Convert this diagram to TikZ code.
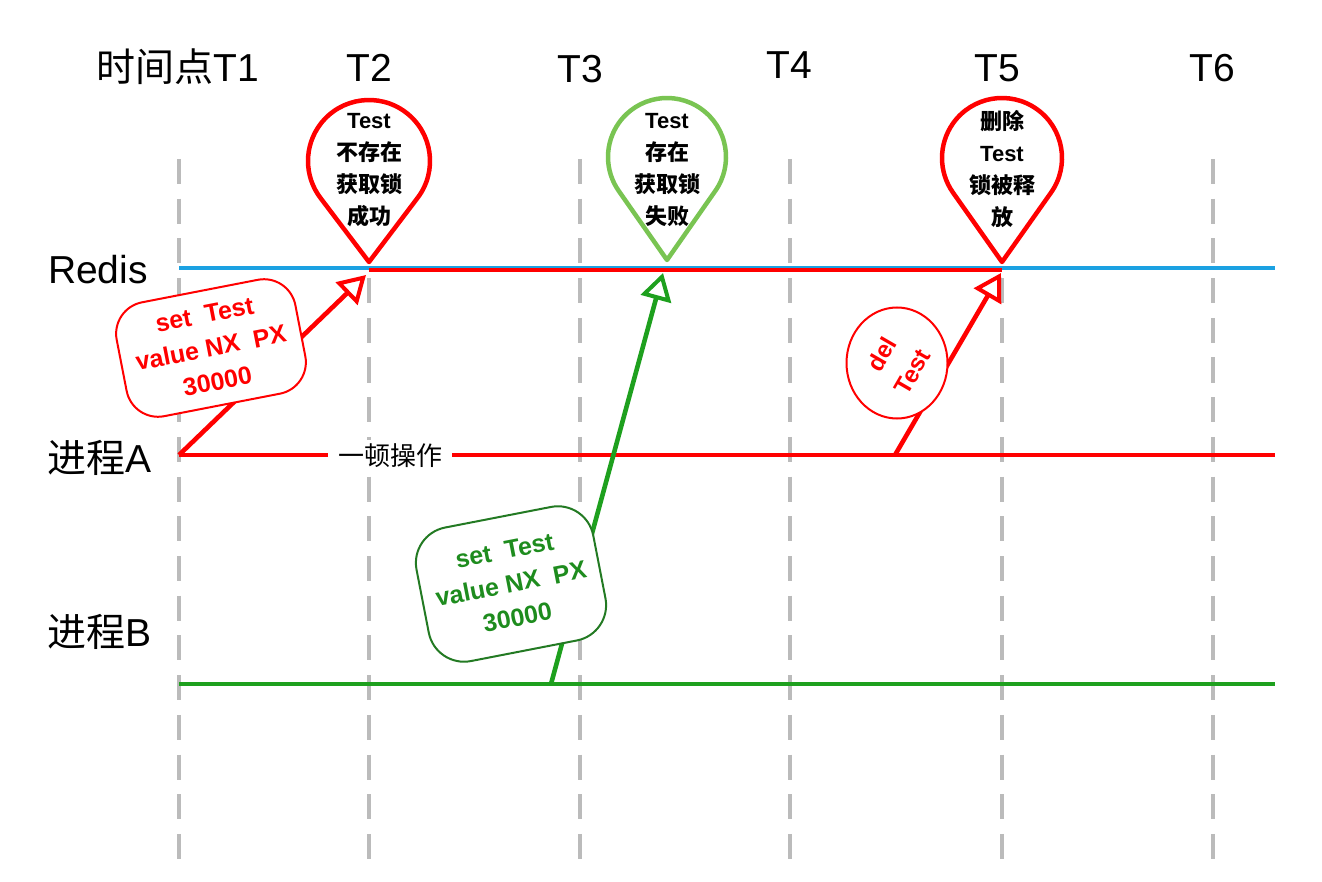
\documentclass[tikz,border=0pt]{standalone}
\usepackage{fontspec}
\setmainfont{Liberation Sans}
\newfontfamily\cjk{Noto Sans CJK SC}
\usetikzlibrary{arrows.meta,shapes.geometric,calc}

\definecolor{myred}{HTML}{FF0000}
\definecolor{myblue}{HTML}{1BA1E2}
\definecolor{mygreen}{HTML}{1EA01E}
\definecolor{darkgreen}{HTML}{237A23}
\definecolor{lightgreen}{HTML}{79C452}
\definecolor{txtgreen}{HTML}{1E8C1E}
\definecolor{dashgray}{HTML}{BBBBBB}

\newcommand{\drawpin}[6]{%
  \pgfmathsetmacro\pinang{acos(#4/#5)}%
  \coordinate (#1c) at (#2,-#3);
  \coordinate (#1t) at (#2,-#3-#5);
  \draw[draw=#6, line width=4.5pt, line join=round, fill=white]
    (#1t) -- ($(#1c)+(-90+\pinang:#4pt)$)
    arc[start angle=-90+\pinang, end angle=270-\pinang, radius=#4pt] -- cycle;
}

\begin{document}
\begin{tikzpicture}[x=1pt,y=1pt,
  dashv/.style={draw=dashgray, line width=4.7pt, dash pattern=on 25pt off 14.7pt},
  bigtxt/.style={font=\fontsize{39}{46}\selectfont, inner sep=0pt, anchor=base},
  pintxt/.style={font=\fontsize{22}{32}\selectfont\bfseries, align=center, inner sep=0pt},
  lane/.style={line width=4.6pt},
  msg/.style={line width=4.6pt, -{Triangle[length=27pt, width=31pt, fill=white, line width=4pt]}},
  boxtxt/.style={font=\fontsize{25}{34}\selectfont\bfseries, align=center, inner sep=0pt}
]
\useasboundingbox (0,0) rectangle (1322,-882);

% dashed time lines
\foreach \xx [count=\i] in {179,369,580,790,1002,1213}{
  \coordinate (vt\i) at (\xx,-159);
  \coordinate (vb\i) at (\xx,-860);
  \draw[dashv] (vt\i) -- (vb\i);
}

% time labels
\node[bigtxt] (t1) at (178,-82) {{\cjk 时间点}T1};
\node[bigtxt] (t2) at (369,-82) {T2};
\node[bigtxt] (t3) at (580,-83) {T3};
\node[bigtxt] (t4) at (789,-79) {T4};
\node[bigtxt] (t5) at (997,-82) {T5};
\node[bigtxt] (t6) at (1212,-82) {T6};

% lane labels
\node[bigtxt] (lr) at (98,-284) {Redis};
\node[bigtxt] (la) at (100,-472) {{\cjk 进程}A};
\node[bigtxt] (lb) at (100,-646) {{\cjk 进程}B};

% lanes
\coordinate (rs) at (179,-268);
\coordinate (re) at (1275,-268);
\draw[lane, myblue] (rs) -- (re);
\coordinate (rls) at (369,-270);
\coordinate (rle) at (1002,-270);
\draw[lane, myred] (rls) -- (rle);

\coordinate (as) at (179,-455);
\coordinate (ae) at (1275,-455);
\draw[lane, myred] (as) -- (ae);

\coordinate (bs) at (179,-684);
\coordinate (be) at (1275,-684);
\draw[lane, mygreen] (bs) -- (be);

\node[fill=white, inner xsep=10pt, inner ysep=4pt, font=\cjk\fontsize{26}{30}\selectfont] (op) at (390,-456) {一顿操作};

% messages
\coordinate (m1s) at (179,-455);
\coordinate (m1e) at (366,-275);
\draw[msg, myred] (m1s) -- (m1e);

\coordinate (m2s) at (551,-684);
\coordinate (m2e) at (663,-273);
\draw[msg, mygreen] (m2s) -- (m2e);

\coordinate (m3s) at (895,-455);
\coordinate (m3e) at (1001,-273);
\draw[msg, myred] (m3s) -- (m3e);

% message labels
\node[draw=myred, line width=2pt, fill=white, rounded corners=32pt, rotate=11,
      minimum width=182pt, minimum height=116pt, text=myred, boxtxt] (b1) at (211,-348)
      {set~~Test\\value NX~~PX\\30000};
\node[draw=darkgreen, line width=2pt, fill=white, rounded corners=36pt, rotate=11,
      minimum width=180pt, minimum height=136pt, text=txtgreen, boxtxt] (b2) at (511,-584)
      {set~~Test\\value NX~~PX\\30000};
\node[draw=myred, line width=2pt, fill=white, ellipse, minimum width=101pt, minimum height=111pt] (b3) at (897,-363) {};
\node[rotate=60, text=myred, font=\fontsize{24}{35}\selectfont\bfseries, align=center, inner sep=0pt] (b3t) at (b3) {del\\Test};

% pins
\drawpin{p1}{369}{161}{61}{101}{myred}
\drawpin{p2}{667}{157}{59}{103}{lightgreen}
\drawpin{p3}{1002}{158}{60}{104}{myred}

\node[pintxt] (p1txt) at (369,-170) {Test\\{\cjk 不存在}\\{\cjk 获取锁}\\{\cjk 成功}};
\node[pintxt] (p2txt) at (667,-170) {Test\\{\cjk 存在}\\{\cjk 获取锁}\\{\cjk 失败}};
\node[pintxt] (p3txt) at (1002,-169) {{\cjk 删除}\\Test\\{\cjk 锁被释}\\{\cjk 放}};
\end{tikzpicture}
\end{document}
